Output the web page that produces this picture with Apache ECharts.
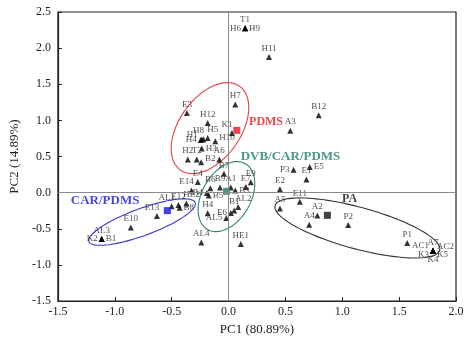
<!DOCTYPE html>
<html>
<head>
<meta charset="utf-8">
<script src="https://cdn.jsdelivr.net/npm/echarts@6/dist/echarts.min.js"></script>
<style>html,body{margin:0;padding:0;background:#fff}#c{width:474px;height:347px}</style>
</head>
<body>
<div id="c"></div>
<script>
// ---- data ----
const pointNames = ['T1','H6','H9','H11','H7','E3','B12','H12','A3','K1','H1','H8','H5','H4','H10','H3','H2','T2','B2','A6','B7','P3','E5','E1','E2','E9','E7','E4','E14','B6','B9','A1','B4','B5','B3','AL1','E12','HE2','B8','E13','E10','AL3','K2','B1','H4','B1','AL2','E6','AL5','AL4','HE1','E11','A5','A2','A4','P2','P1','AC1','A7','AC2','K3','K5','K4'];
const pc1 = [0.146,0.146,0.146,0.356,0.059,-0.366,0.793,-0.183,0.543,0.030,-0.235,-0.220,-0.183,-0.245,-0.116,-0.235,-0.358,-0.279,-0.241,-0.081,-0.040,0.572,0.714,0.685,0.452,0.196,0.152,-0.270,-0.326,-0.160,-0.075,0.020,-0.190,-0.174,0.059,-0.500,-0.440,-0.370,-0.430,-0.629,-0.859,-1.115,-1.115,-1.115,-0.183,0.050,0.085,0.021,-0.020,-0.239,0.108,0.627,0.452,0.781,0.709,1.052,1.571,1.798,1.798,1.798,1.798,1.798,1.798];
const pc2 = [2.274,2.274,2.274,1.878,1.218,1.103,1.070,0.964,0.858,0.826,0.735,0.740,0.757,0.730,0.710,0.609,0.457,0.457,0.420,0.457,0.260,0.318,0.355,0.180,0.046,0.143,0.079,0.148,0.028,0.060,0.070,0.070,-0.005,-0.040,0.028,-0.190,-0.170,-0.150,-0.210,-0.323,-0.484,-0.641,-0.641,-0.641,-0.286,-0.249,-0.198,-0.281,-0.350,-0.692,-0.710,-0.125,-0.221,-0.318,-0.443,-0.447,-0.697,-0.803,-0.803,-0.803,-0.803,-0.803,-0.803];

const groupNames = ['PDMS','DVB/CAR/PDMS','CAR/PDMS','PA'];
const groupPC1 = [0.073,-0.017,-0.538,0.869];
const groupPC2 = [0.862,0.018,-0.249,-0.314];

// ellipses: centre and two conjugate semi-axis vectors (data units)
const ellipseCX = [-0.163,-0.018,-0.760,1.133];
const ellipseCY = [0.893,-0.055,-0.408,-0.489];
const ellipseU = [[0.341,0.284],[0.249,0.180],[0.469,0.253],[0.725,-0.290]];
const ellipseV = [[0,-0.562],[0,0.450],[0,0.198],[0,0.298]];

const xTicks = {min:-1.5, max:2.0, interval:0.5};
const yTicks = {min:-1.5, max:2.5, interval:0.5};

// ---- styling ----
const labelSide = ['top','left','right','top','top','top','top','top','top','topL','leftUp','topL','topR','left','rightUp','right','top','top','rightUp','top','top','left','right','top','top','top','top','top','topL','top','top','top','left','right','right','topL','top','topR','right','topL','top','top','left','right','top','top','topR','left','left','top','top','top','top','top','top','top','top','leftUp','top','rightUp','leftDown','rightDown','bottom'];
const groupColors = ['#e8141c','#1d7a6c','#1414e6','#111111'];
const groupFontSize = [12,13,13,12];
const ellipseColors = ['#e0404a','#2f8073','#3a3ac8','#333333'];
const groupTextAt = [[0.33,0.975],[0.545,0.50],[-1.085,-0.11],[1.064,-0.085]];
const serif = 'Liberation Serif, Times New Roman, serif';

function labelFor(side){
  const base = {show:true, formatter:'{b}', fontFamily:serif, fontSize:9, color:'#222', distance:1};
  switch(side){
    case 'top': return Object.assign(base,{position:'top'});
    case 'topL': return Object.assign(base,{position:'top', offset:[-5,0]});
    case 'topR': return Object.assign(base,{position:'top', offset:[5,0]});
    case 'left': return Object.assign(base,{position:'left'});
    case 'right': return Object.assign(base,{position:'right'});
    case 'leftUp': return Object.assign(base,{position:'left', offset:[0,-5]});
    case 'rightUp': return Object.assign(base,{position:'right', offset:[0,-4]});
    case 'leftDown': return Object.assign(base,{position:'left', offset:[0,4]});
    case 'rightDown': return Object.assign(base,{position:'right', offset:[0,4]});
    case 'bottom': return Object.assign(base,{position:'bottom'});
  }
  return base;
}

const pointData = pointNames.map((n,i)=>({name:n, value:[pc1[i],pc2[i]], label:labelFor(labelSide[i])}));
const groupData = groupNames.map((n,i)=>({name:n, value:[groupPC1[i],groupPC2[i]], itemStyle:{color:groupColors[i]}}));
const groupTextData = groupNames.map((n,i)=>({name:n, value:groupTextAt[i], label:{show:true, position:'inside', formatter:n, color:groupColors[i], fontFamily:serif, fontWeight:'bold', fontSize:groupFontSize[i]}}));
const ellipseData = ellipseCX.map((c,i)=>[c, ellipseCY[i], ellipseU[i][0], ellipseU[i][1], ellipseV[i][0], ellipseV[i][1]]);

const chart = echarts.init(document.getElementById('c'), null, {renderer:'canvas'});
const axisCommon = {
  axisLine:{onZero:false, lineStyle:{color:'#222', width:1.2}},
  axisTick:{inside:true, length:4, lineStyle:{color:'#222'}},
  splitLine:{show:false},
  axisLabel:{fontFamily:serif, fontSize:12, color:'#222', formatter:v=>v.toFixed(1)},
  nameLocation:'middle',
  nameTextStyle:{fontFamily:serif, fontSize:13, color:'#222'}
};
chart.setOption({
  animation:false,
  grid:{left:56, right:18, top:12, bottom:46, show:true, borderColor:'#222', borderWidth:1.2},
  xAxis:Object.assign({type:'value', name:'PC1 (80.89%)', nameGap:22}, xTicks, axisCommon, {axisLabel:Object.assign({}, axisCommon.axisLabel, {margin:5})}),
  yAxis:Object.assign({type:'value', name:'PC2 (14.89%)', nameGap:34}, yTicks, axisCommon, {axisLabel:Object.assign({}, axisCommon.axisLabel, {margin:7})}),
  series:[
    {
      type:'custom',
      data:ellipseData,
      encode:{x:0, y:1},
      silent:true,
      z:1,
      renderItem:function(params, api){
        const cx=api.value(0), cy=api.value(1), ux=api.value(2), uy=api.value(3), vx=api.value(4), vy=api.value(5);
        const pts=[];
        for(let k=0;k<=120;k++){
          const t=k/120*Math.PI*2;
          pts.push(api.coord([cx+ux*Math.cos(t)+vx*Math.sin(t), cy+uy*Math.cos(t)+vy*Math.sin(t)]));
        }
        return {type:'polyline', shape:{points:pts}, style:{fill:null, stroke:ellipseColors[params.dataIndex], lineWidth:1.1}};
      }
    },
    {
      type:'scatter',
      symbol:'triangle',
      symbolSize:6,
      itemStyle:{color:'#000'},
      data:pointData,
      z:3,
      markLine:{
        silent:true, symbol:['none','none'], label:{show:false},
        lineStyle:{color:'#8a8a8a', width:1, type:'solid'},
        data:[{xAxis:0},{yAxis:0}]
      }
    },
    {
      type:'scatter',
      symbol:'rect',
      symbolSize:7,
      data:groupData,
      z:4
    },
    {
      type:'scatter',
      symbolSize:0,
      data:groupTextData,
      silent:true,
      z:5
    }
  ]
});
</script>
</body>
</html>
